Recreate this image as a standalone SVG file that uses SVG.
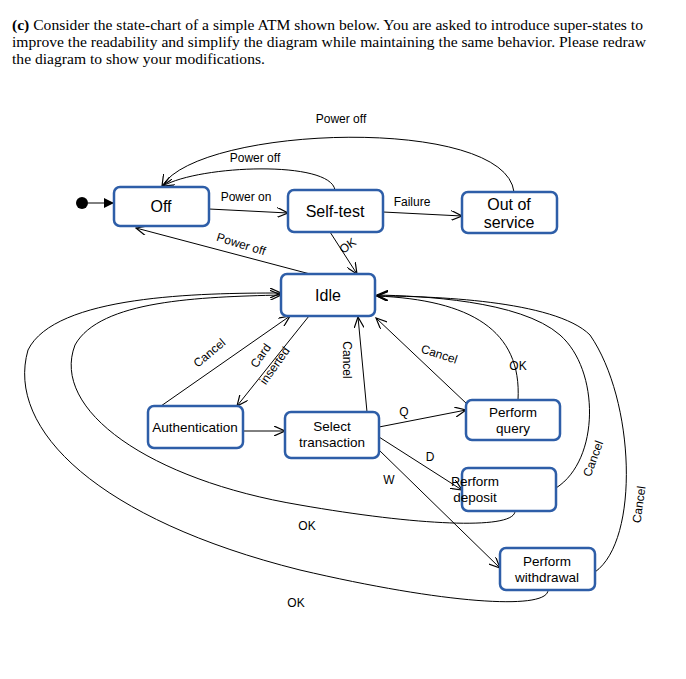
<svg xmlns="http://www.w3.org/2000/svg" width="686" height="679" viewBox="0 0 686 679">
<style>
.h{font-family:"Liberation Serif",serif;font-size:15.6px;fill:#000}
.n{fill:#fff;stroke:#2e5ea8;stroke-width:2.5}
.t{font-family:"Liberation Sans",Arial,sans-serif;fill:#000;text-anchor:middle}
.b{font-size:16px}.s{font-size:13.5px}
.l{font-family:"Liberation Sans",Arial,sans-serif;font-size:12px;fill:#000;text-anchor:middle}
.e{fill:none;stroke:#000;stroke-width:1;marker-end:url(#a)}
</style>
<defs>
<marker id="a" viewBox="0 0 12 10" refX="11" refY="5" markerWidth="12" markerHeight="10" markerUnits="userSpaceOnUse" orient="auto"><path d="M0,0 L11,5 L0,10" fill="none" stroke="#000" stroke-width="1.2"/></marker>
<marker id="f" viewBox="0 0 10 10" refX="10" refY="5" markerWidth="10" markerHeight="10" markerUnits="userSpaceOnUse" orient="auto"><path d="M0,0 L10,5 L0,10z" fill="#000"/></marker>
</defs>
<text class="h" x="12" y="30"><tspan font-weight="bold">(c)</tspan> Consider the state-chart of a simple ATM shown below. You are asked to introduce super-states to</text>
<text class="h" x="12" y="47">improve the readability and simplify the diagram while maintaining the same behavior. Please redraw</text>
<text class="h" x="12" y="64">the diagram to show your modifications.</text>

<g id="connectors">
<path d="M88,203 L114,203" fill="none" stroke="#000" marker-end="url(#f)"/>
<path class="e" d="M209,209 L288,213"/>
<path class="e" d="M383,212 L462,216"/>
<path class="e" d="M335,190 C330,160 200,165 163,186"/>
<path class="e" d="M514,192 C505,115 200,125 162,186"/>
<path class="e" d="M310,274 L136,228"/>
<path class="e" d="M330,232 L357,274"/>
<path class="e" d="M309,316 L237,406"/>
<path class="e" d="M161,406 L290,316"/>
<path class="e" d="M230,431 L285,431"/>
<path class="e" d="M367,412 L358,317"/>
<path class="e" d="M467,404 L376,318"/>
<path class="e" d="M518,400 C522,330 470,300 377,296"/>
<path class="e" d="M556,488 C600,460 600,370 560,335 C520,300 420,296 377,295"/>
<path class="e" d="M595,572 C640,540 635,400 590,335 C555,300 430,296 377,296"/>
<path class="e" d="M515,511 C515,530 420,526 300,505 C150,480 50,410 75,345 C100,300 200,297 281,295"/>
<path class="e" d="M548,590 C548,610 450,605 300,570 C100,520 5,430 28,350 C55,295 200,293 281,293"/>
<path class="e" d="M379,427 L466,410"/>
<path class="e" d="M379,437 L462,490"/>
<path class="e" d="M379,450 L500,568"/>
</g>

<g id="labels">
<text class="l" x="341" y="123">Power off</text>
<text class="l" x="255" y="162">Power off</text>
<text class="l" x="246" y="201">Power on</text>
<text class="l" x="412" y="206">Failure</text>
<text class="l" transform="translate(240,248) rotate(17)">Power off</text>
<text class="l" transform="translate(350,249) rotate(-35)">OK</text>
<text class="l" transform="translate(212,356) rotate(-40)">Cancel</text>
<text class="l" transform="translate(264,358) rotate(-55)">Card</text>
<text class="l" transform="translate(278,368) rotate(-55)">inserted</text>
<text class="l" transform="translate(343,360) rotate(90)">Cancel</text>
<text class="l" transform="translate(438,358) rotate(18)">Cancel</text>
<text class="l" x="518" y="370">OK</text>
<text class="l" transform="translate(597,460) rotate(-70)">Cancel</text>
<text class="l" transform="translate(643,505) rotate(-82)">Cancel</text>
<text class="l" x="404" y="416">Q</text>
<text class="l" x="430" y="461">D</text>
<text class="l" x="389" y="484">W</text>
<text class="l" x="307" y="530">OK</text>
<text class="l" x="296" y="607">OK</text>
</g>

<circle cx="82" cy="203" r="6" fill="#000"/>
<g id="off"><rect class="n" x="114" y="187" width="95" height="39" rx="6"/><text class="t b" x="161" y="212">Off</text></g>
<g id="selftest"><rect class="n" x="288" y="190" width="95" height="42" rx="6"/><text class="t b" x="335" y="217">Self-test</text></g>
<g id="outofservice"><rect class="n" x="462" y="192" width="95" height="41" rx="6"/><text class="t b" x="509" y="210">Out of</text><text class="t b" x="509" y="228">service</text></g>
<g id="idle"><rect class="n" x="281" y="274" width="94" height="42" rx="6"/><text class="t b" x="328" y="301">Idle</text></g>
<g id="auth"><rect class="n" x="148" y="406" width="95" height="42" rx="6"/><text class="t s" x="195" y="432">Authentication</text></g>
<g id="select"><rect class="n" x="285" y="412" width="94" height="46" rx="6"/><text class="t s" x="332" y="431">Select</text><text class="t s" x="332" y="447">transaction</text></g>
<g id="query"><rect class="n" x="466" y="400" width="94" height="40" rx="6"/><text class="t s" x="513" y="417">Perform</text><text class="t s" x="513" y="433">query</text></g>
<g id="deposit"><rect class="n" x="462" y="468" width="94" height="43" rx="6"/><text class="t s" x="475" y="486" text-anchor="start">Perform</text><text class="t s" x="475" y="502" text-anchor="start">deposit</text></g>
<g id="withdrawal"><rect class="n" x="500" y="548" width="95" height="42" rx="6"/><text class="t s" x="547" y="566">Perform</text><text class="t s" x="547" y="582">withdrawal</text></g>
</svg>
